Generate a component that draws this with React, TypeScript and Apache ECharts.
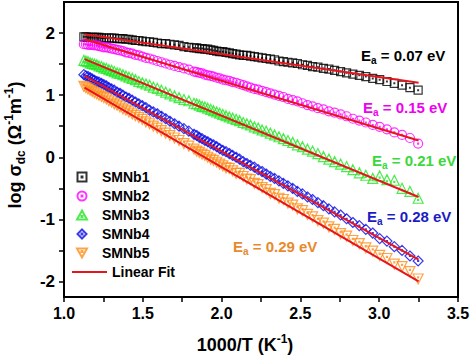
import React, { useEffect, useRef } from 'react';
import * as echarts from 'echarts';

// 1000/T (K^-1)
const invT = [
  1.126, 1.139, 1.152, 1.166, 1.179, 1.193, 1.208, 1.222, 1.238, 1.253,
  1.269, 1.285, 1.302, 1.319, 1.337, 1.355, 1.374, 1.393, 1.412, 1.433,
  1.453, 1.475, 1.497, 1.520, 1.543, 1.567, 1.592, 1.618, 1.645, 1.672,
  1.701, 1.730, 1.761, 1.792, 1.825, 1.842, 1.859, 1.876, 1.894, 1.912,
  1.931, 1.949, 1.969, 1.988, 2.008, 2.028, 2.049, 2.070, 2.092, 2.114,
  2.137, 2.160, 2.183, 2.208, 2.232, 2.257, 2.283, 2.309, 2.336, 2.364,
  2.392, 2.421, 2.451, 2.481, 2.513, 2.545, 2.577, 2.611, 2.646, 2.681,
  2.717, 2.755, 2.793, 2.833, 2.874, 2.915, 2.959, 3.003, 3.049, 3.096,
  3.145, 3.195, 3.247,
];

const smnb1 = [
  1.94, 1.94, 1.93, 1.93, 1.93, 1.93, 1.93, 1.93, 1.92, 1.92,
  1.92, 1.92, 1.92, 1.92, 1.91, 1.91, 1.91, 1.90, 1.90, 1.89,
  1.88, 1.88, 1.87, 1.86, 1.86, 1.85, 1.84, 1.83, 1.83, 1.82,
  1.81, 1.80, 1.78, 1.77, 1.76, 1.76, 1.75, 1.75, 1.74, 1.74,
  1.73, 1.72, 1.71, 1.70, 1.70, 1.69, 1.68, 1.67, 1.66, 1.65,
  1.64, 1.64, 1.63, 1.62, 1.61, 1.60, 1.59, 1.58, 1.57, 1.55,
  1.54, 1.53, 1.52, 1.51, 1.49, 1.48, 1.46, 1.45, 1.43, 1.42,
  1.40, 1.38, 1.36, 1.34, 1.32, 1.30, 1.27, 1.25, 1.22, 1.19,
  1.16, 1.12, 1.08,
];

const smnb2 = [
  1.82, 1.82, 1.81, 1.81, 1.81, 1.80, 1.80, 1.79, 1.78, 1.77,
  1.77, 1.76, 1.75, 1.74, 1.73, 1.72, 1.71, 1.69, 1.68, 1.67,
  1.65, 1.64, 1.62, 1.60, 1.59, 1.57, 1.55, 1.53, 1.51, 1.49,
  1.47, 1.45, 1.43, 1.41, 1.38, 1.37, 1.36, 1.35, 1.33, 1.32,
  1.31, 1.30, 1.28, 1.27, 1.25, 1.24, 1.23, 1.21, 1.20, 1.18,
  1.16, 1.14, 1.12, 1.10, 1.09, 1.07, 1.05, 1.03, 1.01, 0.99,
  0.97, 0.94, 0.92, 0.90, 0.87, 0.84, 0.82, 0.79, 0.77, 0.74,
  0.72, 0.69, 0.66, 0.62, 0.59, 0.56, 0.52, 0.49, 0.45, 0.40,
  0.36, 0.31, 0.22,
];

const smnb3 = [
  1.56, 1.55, 1.54, 1.52, 1.51, 1.50, 1.49, 1.47, 1.46, 1.44,
  1.43, 1.41, 1.40, 1.38, 1.36, 1.35, 1.33, 1.31, 1.29, 1.27,
  1.25, 1.22, 1.20, 1.18, 1.16, 1.13, 1.11, 1.08, 1.05, 1.02,
  0.99, 0.96, 0.93, 0.91, 0.87, 0.86, 0.84, 0.82, 0.81, 0.79,
  0.77, 0.75, 0.73, 0.71, 0.69, 0.67, 0.65, 0.63, 0.61, 0.59,
  0.56, 0.54, 0.52, 0.49, 0.47, 0.44, 0.42, 0.39, 0.36, 0.33,
  0.30, 0.27, 0.24, 0.20, 0.17, 0.13, 0.10, 0.06, 0.01, -0.03,
  -0.07, -0.11, -0.15, -0.20, -0.25, -0.29, -0.34, -0.30, -0.36, -0.37,
  -0.50, -0.55, -0.66,
];

const smnb4 = [
  1.33, 1.31, 1.30, 1.28, 1.26, 1.24, 1.22, 1.21, 1.19, 1.17,
  1.15, 1.12, 1.10, 1.08, 1.05, 1.03, 1.00, 0.97, 0.95, 0.92,
  0.89, 0.86, 0.83, 0.80, 0.76, 0.73, 0.70, 0.66, 0.62, 0.58,
  0.54, 0.50, 0.46, 0.42, 0.37, 0.35, 0.32, 0.30, 0.27, 0.25,
  0.22, 0.20, 0.17, 0.14, 0.11, 0.09, 0.06, 0.03, 0.00, -0.03,
  -0.07, -0.10, -0.13, -0.16, -0.20, -0.23, -0.27, -0.31, -0.34, -0.38,
  -0.42, -0.46, -0.50, -0.55, -0.59, -0.64, -0.68, -0.73, -0.78, -0.83,
  -0.88, -0.93, -0.99, -1.05, -1.10, -1.16, -1.22, -1.31, -1.35, -1.44,
  -1.50, -1.59, -1.67,
];

const smnb5 = [
  1.14, 1.12, 1.10, 1.08, 1.06, 1.04, 1.02, 1.00, 0.98, 0.96,
  0.94, 0.91, 0.89, 0.86, 0.84, 0.81, 0.78, 0.76, 0.73, 0.70,
  0.67, 0.64, 0.61, 0.57, 0.54, 0.50, 0.47, 0.43, 0.39, 0.35,
  0.31, 0.27, 0.22, 0.18, 0.13, 0.10, 0.08, 0.05, 0.03, 0.00,
  -0.03, -0.05, -0.08, -0.11, -0.14, -0.17, -0.18, -0.22, -0.26, -0.26,
  -0.31, -0.35, -0.36, -0.42, -0.44, -0.49, -0.52, -0.58, -0.60, -0.66,
  -0.68, -0.74, -0.77, -0.83, -0.86, -0.92, -0.96, -1.02, -1.06, -1.12,
  -1.16, -1.23, -1.27, -1.34, -1.39, -1.46, -1.51, -1.58, -1.63, -1.72,
  -1.76, -1.84, -1.96,
];

// Linear fit end points
const fitX = [1.13, 3.25];
const fit1 = [1.98, 1.2];
const fit2 = [1.9, 0.27];
const fit3 = [1.58, -0.64];
const fit4 = [1.31, -1.65];
const fit5 = [1.12, -2.0];

const seriesNames = ['SMNb1', 'SMNb2', 'SMNb3', 'SMNb4', 'SMNb5'];
const activation = ['0.07', '0.15', '0.21', '0.28', '0.29'];

const xTicks = [1, 1.25, 1.5, 1.75, 2, 2.25, 2.5, 2.75, 3, 3.25, 3.5];
const xLabels = [1, 1.5, 2, 2.5, 3, 3.5];
const yTicks = [-2, -1.5, -1, -0.5, 0, 0.5, 1, 1.5, 2];
const yLabels = [-2, -1, 0, 1, 2];

const FONT = '"Liberation Sans", Arial, Helvetica, sans-serif';
const markerColors = ['#000000', '#ff00ff', '#22e622', '#0a0ae6', '#ff8c1a'];
const labelColors = ['#000000', '#f000f0', '#3ad83a', '#1c1cc4', '#e88a2c'];
const fitColor = '#e8141c';

const DOT = 'M4.5,4.5H5.5V5.5H4.5Z';
const symbols = [
  'path://M0,0H10V10H0Z ' + DOT,
  'path://M0,5A5,5,0,1,1,10,5A5,5,0,1,1,0,5Z ' + DOT,
  'path://M5,0L10,9L0,9Z M4.5,5.5H5.5V6.5H4.5Z',
  'path://M5,0L10,5L5,10L0,5Z ' + DOT,
  'path://M0,0L10,0L5,9Z M4.5,2.5H5.5V3.5H4.5Z',
];
const symbolSizes = [8, 9, 10, 10, 10];
const annPos = [
  [361, 55],
  [363, 107],
  [372, 160],
  [367, 216],
  [233, 246],
];

function buildOption() {
  const dataSets = [smnb1, smnb2, smnb3, smnb4, smnb5];
  const fits = [fit1, fit2, fit3, fit4, fit5];

  const scatter = dataSets.map((ys, i) => ({
    type: 'scatter',
    name: seriesNames[i],
    data: invT.map((x, j) => [x, ys[j]]),
    symbol: symbols[i],
    symbolSize: symbolSizes[i],
    itemStyle: {
      color: 'rgba(0,0,0,0)',
      borderColor: markerColors[i],
      borderWidth: 1.2,
    },
    z: 2,
  }));

  const lines = fits.map((f) => ({
    type: 'line',
    name: 'Linear Fit',
    data: fitX.map((x, j) => [x, f[j]]),
    symbol: 'none',
    lineStyle: { color: fitColor, width: 2 },
    itemStyle: { color: fitColor },
    z: 3,
  }));

  const labelStyle = {
    color: '#000',
    fontSize: 17,
    fontWeight: 'bold',
    fontFamily: FONT,
  };

  const annotations = activation.map((ea, i) => ({
    type: 'text',
    x: annPos[i][0],
    y: annPos[i][1],
    z: 10,
    style: {
      text: `{b|E}{s|a}{b| = ${ea} eV}`,
      align: 'left',
      verticalAlign: 'middle',
      fill: labelColors[i],
      rich: {
        b: {
          fontSize: 15,
          fontWeight: 'bold',
          fontFamily: FONT,
          fill: labelColors[i],
          lineHeight: 20,
        },
        s: {
          fontSize: 10,
          fontWeight: 'bold',
          fontFamily: FONT,
          fill: labelColors[i],
          lineHeight: 10,
          verticalAlign: 'bottom',
        },
      },
    },
  }));

  const titleRich = {
    m: { fontSize: 18, fontWeight: 'bold', fontFamily: FONT, fill: '#000', lineHeight: 24 },
    s: { fontSize: 12, fontWeight: 'bold', fontFamily: FONT, fill: '#000', lineHeight: 12, verticalAlign: 'bottom' },
    p: { fontSize: 12, fontWeight: 'bold', fontFamily: FONT, fill: '#000', lineHeight: 12, verticalAlign: 'top' },
  };

  return {
    animation: false,
    backgroundColor: '#ffffff',
    grid: {
      left: 64,
      right: 16,
      top: 2,
      bottom: 61,
      show: true,
      borderColor: '#000',
      borderWidth: 2,
      backgroundColor: 'transparent',
    },
    xAxis: {
      type: 'value',
      min: 1,
      max: 3.5,
      axisLine: { show: true, onZero: false, lineStyle: { color: '#000', width: 2 } },
      axisTick: { show: true, customValues: xTicks, length: 5, lineStyle: { color: '#000', width: 1.5 } },
      axisLabel: {
        ...labelStyle,
        fontSize: 16,
        customValues: xLabels,
        margin: 8,
        formatter: (v: number) => v.toFixed(1),
      },
      splitLine: { show: false },
    },
    yAxis: {
      type: 'value',
      min: -2.25,
      max: 2.5,
      axisLine: { show: true, onZero: false, lineStyle: { color: '#000', width: 2 } },
      axisTick: { show: true, customValues: yTicks, length: 5, lineStyle: { color: '#000', width: 1.5 } },
      axisLabel: {
        ...labelStyle,
        customValues: yLabels,
        margin: 9,
        formatter: (v: number) => String(v),
      },
      splitLine: { show: false },
    },
    legend: [
      {
        data: seriesNames,
        orient: 'vertical',
        left: 76,
        top: 170,
        itemWidth: 30,
        itemHeight: 9,
        itemGap: 5,
        padding: 0,
        textStyle: { fontSize: 14, fontWeight: 'bold', color: '#000', fontFamily: FONT },
      },
      {
        data: [{ name: 'Linear Fit', icon: 'rect' }],
        orient: 'vertical',
        left: 72,
        top: 265,
        itemWidth: 35,
        itemHeight: 2,
        padding: 0,
        itemStyle: { color: fitColor, borderWidth: 0 },
        textStyle: { fontSize: 14, fontWeight: 'bold', color: '#000', fontFamily: FONT },
      },
    ],
    series: [...scatter, ...lines],
    graphic: [
      ...annotations,
      {
        type: 'text',
        x: 15,
        y: 145,
        rotation: Math.PI / 2,
        style: {
          text: '{m|log σ}{s|dc}{m| (Ω}{p|-1}{m|m}{p|-1}{m|)}',
          align: 'center',
          verticalAlign: 'middle',
          rich: titleRich,
        },
      },
      {
        type: 'text',
        x: 245,
        y: 345,
        style: {
          text: '{m|1000/T (K}{p|-1}{m|)}',
          align: 'center',
          verticalAlign: 'middle',
          rich: titleRich,
        },
      },
    ],
  };
}

export default function App() {
  const ref = useRef<HTMLDivElement>(null);
  useEffect(() => {
    document.body.style.margin = '0';
    const chart = echarts.init(ref.current as HTMLDivElement, null, { renderer: 'svg' });
    chart.setOption(buildOption() as any);
    return () => chart.dispose();
  }, []);
  return <div ref={ref} style={{ width: 474, height: 358, background: '#fff' }} />;
}
